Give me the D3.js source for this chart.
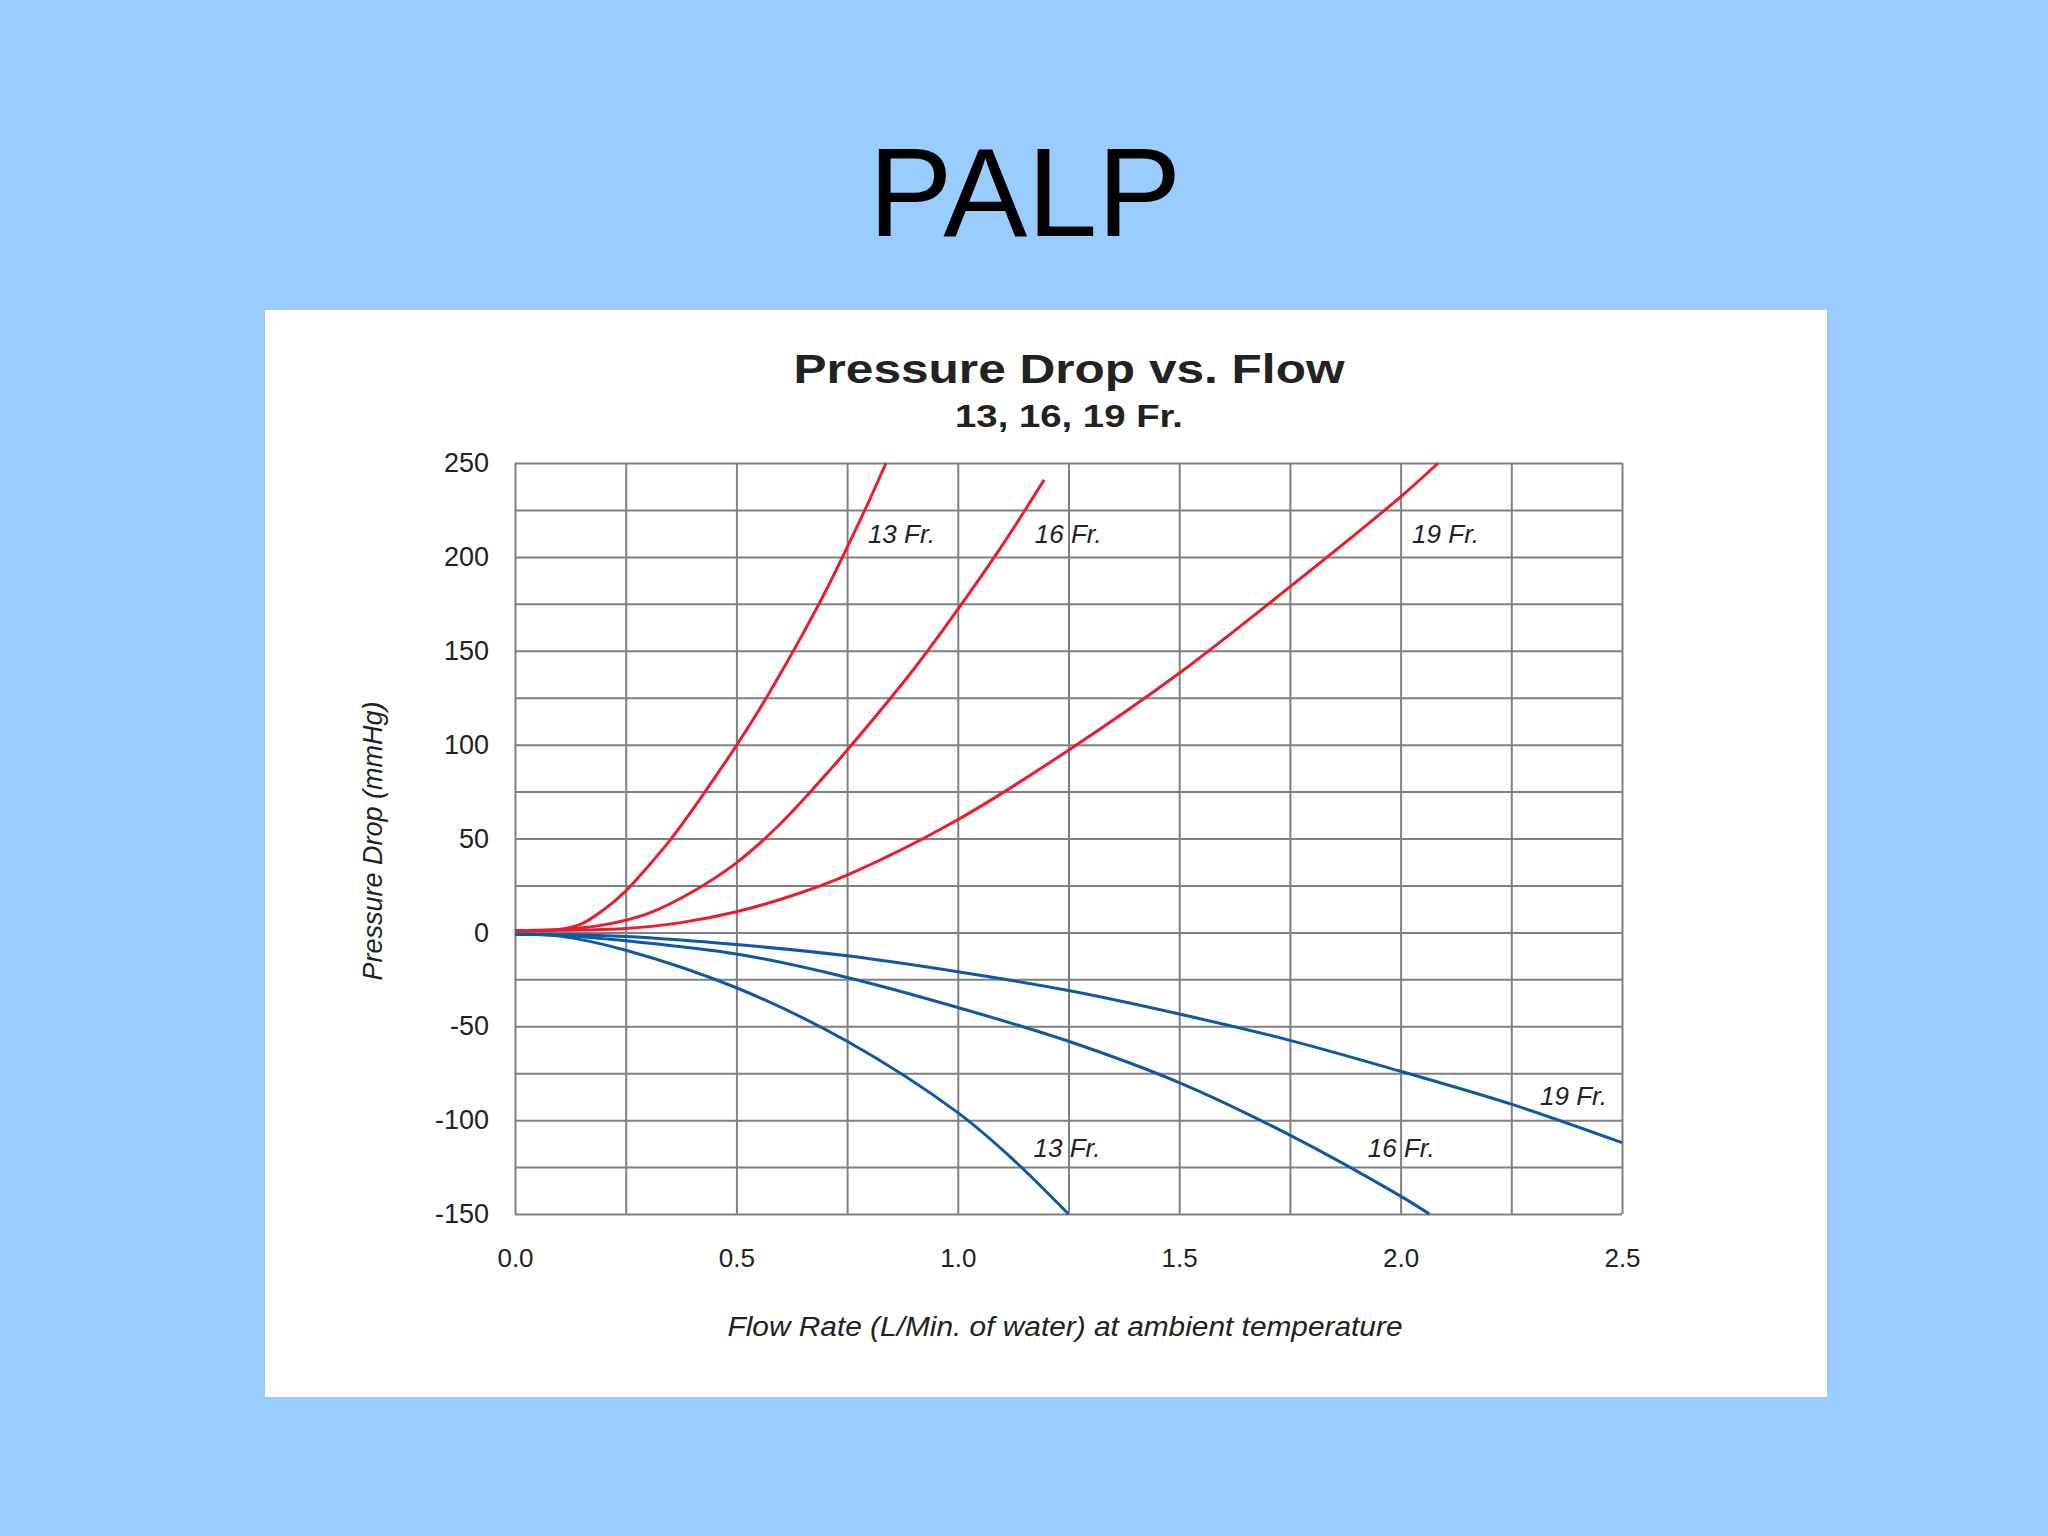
<!DOCTYPE html>
<html>
<head>
<meta charset="utf-8">
<script src="https://cdn.jsdelivr.net/npm/d3@7"></script>
<style>
  body { margin: 0; background: #99ccff; }
  svg { display: block; }
  text { font-family: "Liberation Sans", Arial, Helvetica, sans-serif; fill: #222; }
  .grid line { stroke: #808080; stroke-width: 2; }
  .grid path { display: none; }
  .ticks path { display: none; }
  .ticks text { font-size: 27px; fill: #222; }
  .curve { fill: none; stroke-width: 3; }
  .curve-label { font-size: 26px; font-style: italic; }
</style>
</head>
<body>
<div class="chart"></div>
<script>
// flow (L/min) vs pressure drop (mmHg)
const red13 = [[0, 1], [0.1, 1.5], [0.15, 4.5], [0.2, 12], [0.25, 22], [0.3, 35], [0.35, 49], [0.4, 65],
    [0.45, 82], [0.5, 99.5], [0.55, 118], [0.6, 138], [0.65, 159], [0.7, 181], [0.75, 205], [0.8, 230], [0.838, 250]]
const red16 = [[0, 1], [0.1, 1.5], [0.2, 4], [0.3, 10], [0.4, 21.5], [0.5, 37], [0.6, 58], [0.7, 83.5],
    [0.8, 111], [0.9, 140], [1.0, 172], [1.1, 206], [1.195, 241]]
const red19 = [[0, 1], [0.15, 1.2], [0.25, 2], [0.375, 5.2], [0.5, 11], [0.625, 19.5], [0.75, 30.5], [1.0, 60],
    [1.25, 97], [1.5, 138], [1.75, 184], [2.0, 232], [2.085, 250]]

const blue13 = [[0, -1], [0.1, -2], [0.25, -9.5], [0.5, -29.5], [0.75, -58], [1.0, -96], [1.125, -121], [1.25, -150]]
const blue16 = [[0, -1], [0.1, -1.5], [0.25, -4.5], [0.5, -11.5], [0.75, -24], [1.0, -40], [1.25, -58],
    [1.5, -80], [1.75, -108], [2.0, -140.5], [2.065, -150]]
const blue19 = [[0, -1], [0.1, -1.2], [0.25, -2.2], [0.5, -6.5], [0.75, -12.5], [1.0, -21], [1.25, -31],
    [1.5, -43.5], [1.75, -57.5], [2.0, -74], [2.25, -91.5], [2.5, -112]]

// curve labels, anchored in data units
const labelText = ['13 Fr.', '16 Fr.', '19 Fr.', '13 Fr.', '16 Fr.', '19 Fr.']
const labelFlow = [0.797, 1.174, 2.026, 1.171, 1.926, 2.315]
const labelDrop = [207.4, 207.4, 207.4, -119.4, -119.4, -91.7]

const xTicks = [0, 0.5, 1.0, 1.5, 2.0, 2.5]
const yTicks = [250, 200, 150, 100, 50, 0, -50, -100, -150]

const colours = { red: '#ec1c2a', blue: '#0e58a8' }

// config
const w = 2048
const h = 1536
const plot = { left: 515, right: 1622, top: 463, bottom: 1214 }

const xScale = d3.scaleLinear().domain([0, 2.5]).range([plot.left, plot.right])
const yScale = d3.scaleLinear().domain([-150, 250]).range([plot.bottom, plot.top])

const svg = d3.select('.chart')
    .append('svg')
    .attr('width', w)
    .attr('height', h)
    .attr('viewBox', '0 0 ' + w + ' ' + h)

svg.append('rect').attr('width', w).attr('height', h).attr('fill', '#99ccff')

// slide title
svg.append('text')
    .attr('x', 1025).attr('y', 236)
    .attr('text-anchor', 'middle')
    .style('font-size', '126px')
    .style('fill', '#000')
    .text('PALP')

// white panel
svg.append('rect')
    .attr('x', 265).attr('y', 310)
    .attr('width', 1562).attr('height', 1087)
    .attr('fill', '#fff')

// chart titles
svg.append('text')
    .attr('x', 1069).attr('y', 383)
    .attr('text-anchor', 'middle')
    .attr('textLength', 551).attr('lengthAdjust', 'spacingAndGlyphs')
    .style('font-size', '41px').style('font-weight', 'bold')
    .text('Pressure Drop vs. Flow')

svg.append('text')
    .attr('x', 1069).attr('y', 427)
    .attr('text-anchor', 'middle')
    .attr('textLength', 228).attr('lengthAdjust', 'spacingAndGlyphs')
    .style('font-size', '32px').style('font-weight', 'bold')
    .text('13, 16, 19 Fr.')

// grid
svg.append('g')
    .attr('class', 'grid')
    .attr('transform', 'translate(0,' + plot.bottom + ')')
    .call(d3.axisBottom(xScale)
        .tickValues(d3.range(0, 2.51, 0.25))
        .tickSize(-(plot.bottom - plot.top))
        .tickFormat(''))

svg.append('g')
    .attr('class', 'grid')
    .attr('transform', 'translate(' + plot.left + ',0)')
    .call(d3.axisLeft(yScale)
        .tickValues(d3.range(-150, 251, 25))
        .tickSize(-(plot.right - plot.left))
        .tickFormat(''))

// tick labels
svg.append('g')
    .attr('class', 'ticks')
    .attr('transform', 'translate(0,' + plot.bottom + ')')
    .call(d3.axisBottom(xScale)
        .tickValues(xTicks)
        .tickSize(0)
        .tickPadding(35)
        .tickFormat(d => d.toFixed(1)))
    .selectAll('text').style('font-size', '26px')

svg.append('g')
    .attr('class', 'ticks')
    .attr('transform', 'translate(' + plot.left + ',0)')
    .call(d3.axisLeft(yScale)
        .tickValues(yTicks)
        .tickSize(0)
        .tickPadding(26)
        .tickFormat(d => String(d)))

// axis titles
svg.append('text')
    .attr('x', 1065).attr('y', 1336)
    .attr('text-anchor', 'middle')
    .attr('textLength', 675).attr('lengthAdjust', 'spacingAndGlyphs')
    .style('font-size', '27px').style('font-style', 'italic')
    .text('Flow Rate (L/Min. of water) at ambient temperature')

svg.append('text')
    .attr('transform', 'translate(382,841) rotate(-90)')
    .attr('text-anchor', 'middle')
    .style('font-size', '27px').style('font-style', 'italic')
    .text('Pressure Drop (mmHg)')

// curves
const line = d3.line()
    .x(d => xScale(d[0]))
    .y(d => yScale(d[1]))
    .curve(d3.curveCatmullRom.alpha(0.5))

const series = [
    { data: blue13, colour: colours.blue },
    { data: blue16, colour: colours.blue },
    { data: blue19, colour: colours.blue },
    { data: red13, colour: colours.red },
    { data: red16, colour: colours.red },
    { data: red19, colour: colours.red }
]

svg.append('g')
    .selectAll('path.curve')
    .data(series)
    .join('path')
    .attr('class', 'curve')
    .attr('d', d => line(d.data))
    .attr('stroke', d => d.colour)

svg.append('g')
    .selectAll('text.curve-label')
    .data(labelText)
    .join('text')
    .attr('class', 'curve-label')
    .attr('x', (d, i) => xScale(labelFlow[i]))
    .attr('y', (d, i) => yScale(labelDrop[i]))
    .text(d => d)
</script>
</body>
</html>
